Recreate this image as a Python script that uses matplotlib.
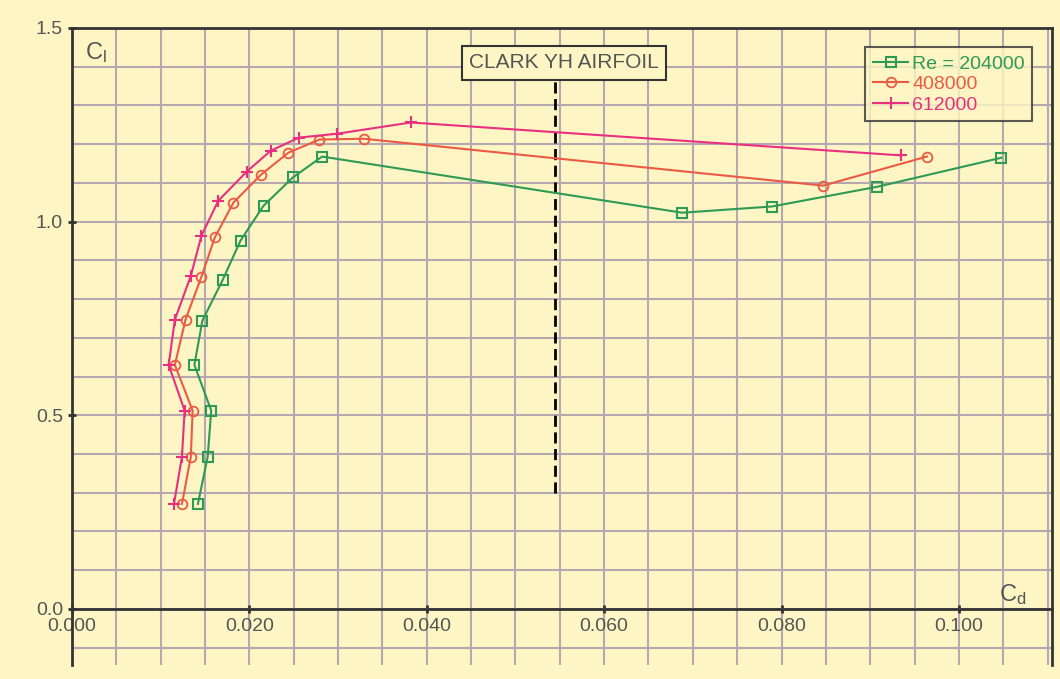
import numpy as np
import matplotlib
matplotlib.use('Agg')
import matplotlib.pyplot as plt
from matplotlib.ticker import MultipleLocator

plt.rcParams['font.family'] = ['Liberation Sans', 'DejaVu Sans']
plt.rcParams['mathtext.fontset'] = 'custom'
plt.rcParams['mathtext.rm'] = 'Liberation Sans'
plt.rcParams['mathtext.it'] = 'Liberation Sans'

# drag coefficient / lift coefficient for each Reynolds number
cd_204 = [0.0142, 0.0153, 0.0157, 0.0138, 0.0147, 0.0170, 0.0190, 0.0216, 0.0249, 0.0282,
          0.0688, 0.0789, 0.0908, 0.1048]
cl_204 = [0.271, 0.393, 0.512, 0.630, 0.744, 0.850, 0.951, 1.041, 1.114, 1.168,
          1.023, 1.039, 1.090, 1.165]
cd_408 = [0.0124, 0.0134, 0.0136, 0.0116, 0.0128, 0.0146, 0.0161, 0.0182, 0.0213, 0.0244,
          0.0279, 0.0329, 0.0847, 0.0964]
cl_408 = [0.271, 0.393, 0.512, 0.630, 0.747, 0.858, 0.959, 1.049, 1.121, 1.178,
          1.212, 1.214, 1.093, 1.168]
cd_612 = [0.0115, 0.0124, 0.0127, 0.0109, 0.0116, 0.0134, 0.0146, 0.0165, 0.0197, 0.0224,
          0.0256, 0.0299, 0.0382, 0.0935]
cl_612 = [0.271, 0.393, 0.512, 0.630, 0.747, 0.860, 0.964, 1.054, 1.129, 1.183,
          1.217, 1.227, 1.256, 1.171]

bg = '#fdf6c4'
fig = plt.figure(figsize=(10.6, 6.79), dpi=100, facecolor=bg)
ax = fig.add_axes([72 / 1060, 14 / 679, 980 / 1060, 637 / 679])
ax.set_facecolor(bg)

ax.plot(cd_204, cl_204, color='#2e9a55', marker='s', ms=7, mfc='none', mew=1.5, lw=1.5,
        label='Re = 204000', zorder=3)
ax.plot(cd_408, cl_408, color='#ec5a45', marker='o', ms=7, mfc='none', mew=1.3, lw=1.5,
        label='408000', zorder=3)
ax.plot(cd_612, cl_612, color='#e8307f', marker='+', ms=8, mew=1.5, lw=1.5,
        label='612000', zorder=3)

ax.plot([0.0545, 0.0545], [0.3, 1.37], color='black', lw=2, ls=(0, (4, 2)), zorder=2)

ax.set_xlim(0, 0.1105)
ax.set_ylim(-0.145, 1.5)
ax.xaxis.set_minor_locator(MultipleLocator(0.005))
ax.yaxis.set_minor_locator(MultipleLocator(0.1))
ax.set_xticks([0.0, 0.02, 0.04, 0.06, 0.08, 0.10])
ax.set_xticklabels(['0.000', '0.020', '0.040', '0.060', '0.080', '0.100'])
ax.set_yticks([0.0, 0.5, 1.0, 1.5])
ax.set_yticklabels(['0.0', '0.5', '1.0', '1.5'])
ax.grid(which='both', color='#b5a8b0', lw=1.5, zorder=0)
ax.tick_params(which='major', length=6, width=2, color='#333333', labelsize=14,
               labelcolor='#555555', direction='inout')
ax.tick_params(which='minor', length=0)
ax.spines['bottom'].set_position(('data', 0))
for s in ax.spines.values():
    s.set_color('#333333')
    s.set_linewidth(2)

ax.text(0.0015, 1.47, r'$\mathrm{C}_\mathrm{l}$', fontsize=17, color='#555555', va='top')
ax.text(0.1045, 0.005, r'$\mathrm{C}_\mathrm{d}$', fontsize=17, color='#555555', va='bottom')

ax.text(0.0555, 1.41, 'CLARK YH AIRFOIL', fontsize=15, color='#555555', ha='center', va='center',
        bbox=dict(boxstyle='square,pad=0.35', fc=bg, ec='#333333', lw=1.5), zorder=4)

leg = ax.legend(loc='upper right', bbox_to_anchor=(0.99, 0.985), fontsize=14, frameon=True,
                fancybox=False, handlelength=1.8, handletextpad=0.2, borderpad=0.4,
                labelspacing=0.15)
leg.get_frame().set_facecolor(bg)
leg.get_frame().set_edgecolor('#333333')
leg.get_frame().set_linewidth(1.5)
for t, c in zip(leg.get_texts(), ['#2e9a55', '#ec5a45', '#e8307f']):
    t.set_color(c)

fig.savefig('out.png', dpi=100, facecolor=bg)
